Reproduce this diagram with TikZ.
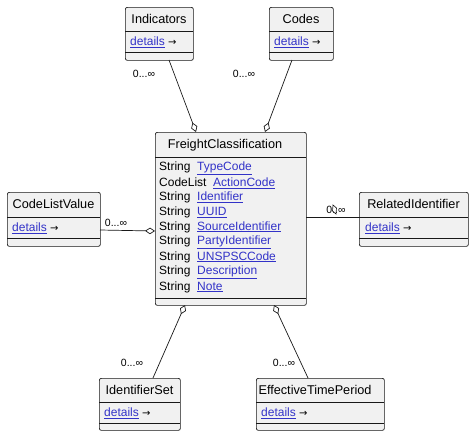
\documentclass[tikz,border=0pt]{standalone}
\usepackage{fontspec}
\setmainfont{Liberation Sans}
\newfontfamily\arrfont{DejaVu Sans}
\usetikzlibrary{arrows.meta}
\definecolor{boxfill}{HTML}{F1F1F1}
\definecolor{boxline}{HTML}{181818}
\definecolor{lnkc}{RGB}{50,50,200}
\newcommand{\lnk}[1]{\textcolor{lnkc}{\underline{#1}}}
\newcommand{\arr}{{\arrfont\fontsize{10}{12}\selectfont →}}
\tikzset{
  cls/.style={draw=boxline, fill=boxfill, rounded corners=2pt, line width=0.7pt, anchor=north west, inner sep=0pt},
  sep/.style={draw=boxline, line width=0.7pt},
  ttl/.style={font=\fontsize{12.7}{14}\selectfont, inner sep=0pt},
  att/.style={font=\fontsize{12}{14}\selectfont, anchor=west, inner sep=0pt},
  mult/.style={font=\fontsize{10.5}{12}\selectfont, inner sep=0pt},
  conn/.style={draw=boxline, line width=0.7pt},
  agg/.style={conn, -{Diamond[length=10pt,width=6.5pt,fill=white,line width=0.7pt]}},
}
\begin{document}
\begin{tikzpicture}[x=1pt,y=-1pt]
\useasboundingbox[fill=white] (0,0) rectangle (474,437);
% Indicators
\node[cls, minimum width=68pt, minimum height=53pt] (ind) at (125,7) {};
\draw[sep] (125,31) -- (193,31); \draw[sep] (125,52) -- (193,52);
\node[ttl] (indt) at (159,19) {Indicators};
\node[att] (indd) at (130,42) {\lnk{details} \arr};
% Codes
\node[cls, minimum width=64pt, minimum height=53pt] (cod) at (269,7) {};
\draw[sep] (269,31) -- (333,31); \draw[sep] (269,52) -- (333,52);
\node[ttl] (codt) at (301,19) {Codes};
\node[att] (codd) at (274,42) {\lnk{details} \arr};
% FreightClassification
\node[cls, minimum width=151pt, minimum height=173pt] (fc) at (155,132) {};
\draw[sep] (155,157) -- (306,157); \draw[sep] (155,298) -- (306,298);
\node[ttl] (fct) at (225,145) {FreightClassification};
\node[att] (a1) at (159,168) {String\ \ \lnk{TypeCode}};
\node[att] (a2) at (159,183) {CodeList\ \ \lnk{ActionCode}};
\node[att] (a3) at (159,197.5) {String\ \ \lnk{Identifier}};
\node[att] (a4) at (159,212.5) {String\ \ \lnk{UUID}};
\node[att] (a5) at (159,227) {String\ \ \lnk{SourceIdentifier}};
\node[att] (a6) at (159,242) {String\ \ \lnk{PartyIdentifier}};
\node[att] (a7) at (159,257) {String\ \ \lnk{UNSPSCCode}};
\node[att] (a8) at (159,272) {String\ \ \lnk{Description}};
\node[att] (a9) at (159,287) {String\ \ \lnk{Note}};
% CodeListValue
\node[cls, minimum width=93pt, minimum height=54pt] (clv) at (7,192) {};
\draw[sep] (7,217) -- (100,217); \draw[sep] (7,238) -- (100,238);
\node[ttl] (clvt) at (53.5,204) {CodeListValue};
\node[att] (clvd) at (12,228) {\lnk{details} \arr};
% RelatedIdentifier
\node[cls, minimum width=109pt, minimum height=54pt] (ri) at (359,192) {};
\draw[sep] (359,217) -- (468,217); \draw[sep] (359,238) -- (468,238);
\node[ttl] (rit) at (413.5,204) {RelatedIdentifier};
\node[att] (rid) at (365,228) {\lnk{details} \arr};
% IdentifierSet
\node[cls, minimum width=81pt, minimum height=52pt] (is) at (99,378) {};
\draw[sep] (99,402) -- (180,402); \draw[sep] (99,423) -- (180,423);
\node[ttl] (ist) at (139.5,390) {IdentifierSet};
\node[att] (isd) at (104,413) {\lnk{details} \arr};
% EffectiveTimePeriod
\node[cls, minimum width=128pt, minimum height=52pt] (etp) at (256,378) {};
\draw[sep] (256,402) -- (384,402); \draw[sep] (256,423) -- (384,423);
\node[ttl] (etpt) at (315,390) {EffectiveTimePeriod};
\node[att] (etpd) at (261,413) {\lnk{details} \arr};
% connector end points
\coordinate (indE) at (169,60);  \coordinate (fcI) at (196,132);
\coordinate (codE) at (292,60);  \coordinate (fcC) at (265,132);
\coordinate (clvE) at (100,230); \coordinate (fcL) at (155,231);
\coordinate (fcR) at (306,217);  \coordinate (riE) at (359,217);
\coordinate (isE) at (153,378);  \coordinate (fcB1) at (185,305);
\coordinate (etpE) at (308,378); \coordinate (fcB2) at (274,305);
\draw[agg] (indE) -- (fcI);
\draw[agg] (codE) -- (fcC);
\draw[agg] (clvE) -- (fcL);
\draw[conn] (fcR) -- (riE);
\draw[agg] (isE) -- (fcB1);
\draw[agg] (etpE) -- (fcB2);
% multiplicities
\node[mult] (m1) at (144,74) {0...∞};
\node[mult] (m2) at (244,74) {0...∞};
\node[mult] (m3) at (116,223) {0...∞};
\node[mult] (m4) at (132,363) {0...∞};
\node[mult] (m5) at (284,363) {0...∞};
\node[mult] (m6) at (336,210) {0..∞};
\coordinate (rdT) at (333,205); \coordinate (rdB) at (336,214);
\draw[conn, line width=0.6pt, fill=white] (rdT) -- (336.5,208) -- (rdB) -- (332.5,211) -- cycle;
\end{tikzpicture}
\end{document}
